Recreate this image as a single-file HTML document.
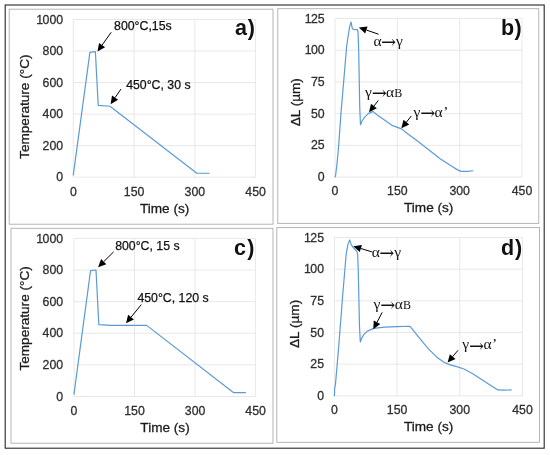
<!DOCTYPE html>
<html lang="en"><head><meta charset="utf-8"><title>Figure</title>
<style>
html,body{margin:0;padding:0;background:#fff}
body{width:550px;height:455px;overflow:hidden}
svg{display:block;font-family:"Liberation Sans",sans-serif}
.tk text{font-size:12.3px;fill:#2e2e2e;stroke:#2e2e2e;stroke-width:0.28px}
.ax{font-size:13.6px;fill:#1c1c1c;stroke:#1c1c1c;stroke-width:0.3px}
.an text{font-size:12.3px;fill:#111;stroke:#111;stroke-width:0.25px}

.lb text{font-size:21.5px;font-weight:bold;fill:#111}
.gr text{font-family:"Liberation Serif",serif;font-size:15.5px;fill:#111}
.gr .sm{font-size:12px}
.gr .ar{font-family:"DejaVu Serif","Liberation Serif",serif;font-size:18px}
</style></head><body>
<svg width="550" height="455" viewBox="0 0 550 455">
<rect width="550" height="455" fill="#fff"/>
<rect x="5.2" y="5.0" width="539.0" height="443.2" fill="#fff" stroke="#262626" stroke-width="1.1"/>
<rect x="9.2" y="9.2" width="263.8" height="215" fill="#fff" stroke="#adadad" stroke-width="0.9"/>
<path d="M73.3 19.5V177.2M134.07 19.5V177.2M194.83 19.5V177.2M255.6 19.5V177.2M73.3 177.2H255.6M73.3 145.66H255.6M73.3 114.12H255.6M73.3 82.58H255.6M73.3 51.04H255.6M73.3 19.5H255.6" fill="none" stroke="#e5e5e5" stroke-width="0.9"/>
<g class="tk">
<text x="73.3" y="195.5" text-anchor="middle">0</text>
<text x="134.07" y="195.5" text-anchor="middle">150</text>
<text x="194.83" y="195.5" text-anchor="middle">300</text>
<text x="255.6" y="195.5" text-anchor="middle">450</text>
<text x="63.1" y="181.3" text-anchor="end">0</text>
<text x="63.1" y="149.76" text-anchor="end">200</text>
<text x="63.1" y="118.22" text-anchor="end">400</text>
<text x="63.1" y="86.68" text-anchor="end">600</text>
<text x="63.1" y="55.14" text-anchor="end">800</text>
<text x="63.1" y="23.6" text-anchor="end">1<tspan dx="-0.6">000</tspan></text>
</g>
<text class="ax" x="164.65" y="212.5" text-anchor="middle">Time (s)</text>
<text class="ax" transform="translate(29.3 106.7) rotate(-90)" text-anchor="middle">Temperature (°C)</text>
<polyline points="73.3,174.83 89.91,52.3 95.38,51.67 98.21,105.45 109.96,106.23 196.86,173.26 209.01,173.26" fill="none" stroke="#5b9bd5" stroke-width="1.2" stroke-linejoin="round" stroke-linecap="round"/>
<rect x="277.8" y="8.7" width="261" height="214.7" fill="#fff" stroke="#adadad" stroke-width="0.9"/>
<path d="M335 18.5V177.1M397.33 18.5V177.1M459.67 18.5V177.1M522 18.5V177.1M335 177.1H522M335 145.38H522M335 113.66H522M335 81.94H522M335 50.22H522M335 18.5H522" fill="none" stroke="#e5e5e5" stroke-width="0.9"/>
<g class="tk">
<text x="335" y="195.4" text-anchor="middle">0</text>
<text x="397.33" y="195.4" text-anchor="middle">150</text>
<text x="459.67" y="195.4" text-anchor="middle">300</text>
<text x="522" y="195.4" text-anchor="middle">450</text>
<text x="324.7" y="181.2" text-anchor="end">0</text>
<text x="324.7" y="149.48" text-anchor="end">25</text>
<text x="324.7" y="117.76" text-anchor="end">50</text>
<text x="324.7" y="86.04" text-anchor="end">75</text>
<text x="324.7" y="54.32" text-anchor="end">1<tspan dx="-0.6">00</tspan></text>
<text x="324.7" y="22.6" text-anchor="end">1<tspan dx="-0.6">25</tspan></text>
</g>
<text class="ax" x="428.7" y="212.4" text-anchor="middle">Time (s)</text>
<text class="ax" transform="translate(299.6 102.2) rotate(-90)" text-anchor="middle">ΔL (µm)</text>
<polyline points="335,177.1 335.62,175.2 337.08,163.14 338.78,144.11 340.94,113.66 343.31,85.75 346.64,46.41 348.3,34.99 349.75,26.11 351.08,22.05 351.83,26.11 352.45,28.78 353.7,29.41 357.44,29.67 358.06,32.46 358.69,50.22 359.73,107.32 360.47,124.7 362.43,120.26 364.92,116.83 368.24,113.66 373.02,111.38 376.56,114.55 391.93,125.33 401.49,128.89 407.31,133.45 418.11,141.57 440.14,158.7 451.36,165.93 458,170.12 461.33,171.39 467.98,171.39 472.96,170.76" fill="none" stroke="#5b9bd5" stroke-width="1.2" stroke-linejoin="round" stroke-linecap="round"/>
<rect x="11" y="228.3" width="262" height="214.9" fill="#fff" stroke="#adadad" stroke-width="0.9"/>
<path d="M74 238.4V396.5M134.53 238.4V396.5M195.07 238.4V396.5M255.6 238.4V396.5M74 396.5H255.6M74 364.88H255.6M74 333.26H255.6M74 301.64H255.6M74 270.02H255.6M74 238.4H255.6" fill="none" stroke="#e5e5e5" stroke-width="0.9"/>
<g class="tk">
<text x="74" y="414.8" text-anchor="middle">0</text>
<text x="134.53" y="414.8" text-anchor="middle">150</text>
<text x="195.07" y="414.8" text-anchor="middle">300</text>
<text x="255.6" y="414.8" text-anchor="middle">450</text>
<text x="63.1" y="400.6" text-anchor="end">0</text>
<text x="63.1" y="368.98" text-anchor="end">200</text>
<text x="63.1" y="337.36" text-anchor="end">400</text>
<text x="63.1" y="305.74" text-anchor="end">600</text>
<text x="63.1" y="274.12" text-anchor="end">800</text>
<text x="63.1" y="242.5" text-anchor="end">1<tspan dx="-0.6">000</tspan></text>
</g>
<text class="ax" x="165" y="431.8" text-anchor="middle">Time (s)</text>
<text class="ax" transform="translate(29.3 318.4) rotate(-90)" text-anchor="middle">Temperature (°C)</text>
<polyline points="74,394.13 90.55,270.65 95.99,270.02 98.82,324.56 110.32,325.36 146.64,325.36 233.4,392.55 245.51,392.55" fill="none" stroke="#5b9bd5" stroke-width="1.2" stroke-linejoin="round" stroke-linecap="round"/>
<rect x="276.8" y="227.6" width="262.7" height="214.7" fill="#fff" stroke="#adadad" stroke-width="0.9"/>
<path d="M334.4 237.5V395.8M397.1 237.5V395.8M459.8 237.5V395.8M522.5 237.5V395.8M334.4 395.8H522.5M334.4 364.14H522.5M334.4 332.48H522.5M334.4 300.82H522.5M334.4 269.16H522.5M334.4 237.5H522.5" fill="none" stroke="#e5e5e5" stroke-width="0.9"/>
<g class="tk">
<text x="334.4" y="414.1" text-anchor="middle">0</text>
<text x="397.1" y="414.1" text-anchor="middle">150</text>
<text x="459.8" y="414.1" text-anchor="middle">300</text>
<text x="522.5" y="414.1" text-anchor="middle">450</text>
<text x="324" y="399.9" text-anchor="end">0</text>
<text x="324" y="368.24" text-anchor="end">25</text>
<text x="324" y="336.58" text-anchor="end">50</text>
<text x="324" y="304.92" text-anchor="end">75</text>
<text x="324" y="273.26" text-anchor="end">1<tspan dx="-0.6">00</tspan></text>
<text x="324" y="241.6" text-anchor="end">1<tspan dx="-0.6">25</tspan></text>
</g>
<text class="ax" x="428.65" y="431.1" text-anchor="middle">Time (s)</text>
<text class="ax" transform="translate(298.6 323.9) rotate(-90)" text-anchor="middle">ΔL (µm)</text>
<polyline points="334.4,395.8 334.73,388.2 335.44,384.4 338.41,350.21 342.76,294.49 346.19,253.96 347.82,244.85 349.62,240.03 351.37,244.85 352.79,247 356.8,251.43 357.64,253.96 358.23,269.16 359.48,326.15 360.32,341.98 361.99,337.55 364.5,333.75 367.84,330.83 373.69,328.43 384.56,327.16 397.1,326.65 410.06,326.27 420.09,338.81 428.45,348.94 436.81,357.17 443.92,362.24 449.35,364.65 457.71,366.93 463.98,368.95 472.34,373.51 482.79,380.22 491.15,385.67 497.84,389.97 503.69,390.1 511.21,389.97" fill="none" stroke="#5b9bd5" stroke-width="1.2" stroke-linejoin="round" stroke-linecap="round"/>
<g class="an">
<text x="114.1" y="30.2">800°C,15s</text>
<text x="126.2" y="89.2">450°C, 30 s</text>
<text x="115.2" y="250.4">800°C, 15 s</text>
<text x="137.4" y="302.4">450°C, 120 s</text>
</g>
<g class="lb">
<text x="235.1" y="34.8">a</text><text x="247.7" y="34.8">)</text>
<text x="500.9" y="34.5">b</text><text x="514.6" y="34.5">)</text>
<text x="234" y="254.8">c</text><text x="247.3" y="254.8">)</text>
<text x="501.05" y="254.5">d</text><text x="515" y="254.5">)</text>
</g>
<g class="gr">
<text x="373.45" y="45.6">α</text>
<text class="ar" x="380.95" y="47.9">→</text>
<text x="396" y="45.6">γ</text>
<text x="365" y="97">γ</text>
<text class="ar" x="371.7" y="99.3">→</text>
<text x="386.1" y="97">α</text>
<text class="sm" x="394.3" y="97">B</text>
<text x="413.45" y="117">γ</text>
<text class="ar" x="420.15" y="119.3">→</text>
<text x="434.55" y="117">α</text>
<text x="443.15" y="117">’</text>
<text x="371.8" y="257">α</text>
<text class="ar" x="379.3" y="259.3">→</text>
<text x="394.35" y="257">γ</text>
<text x="373.6" y="309">γ</text>
<text class="ar" x="380.3" y="311.3">→</text>
<text x="394.7" y="309">α</text>
<text class="sm" x="402.9" y="309">B</text>
<text x="462.3" y="349.4">γ</text>
<text class="ar" x="469" y="351.7">→</text>
<text x="483.4" y="349.4">α</text>
<text x="492" y="349.4">’</text>
</g>
<path d="M111.2 32.3L102.09 45.07" stroke="#000" stroke-width="1.0" fill="none"/>
<path d="M97.5 51.5L99.08 42.92L105.1 47.22Z" fill="#000"/>
<path d="M121 89L115.06 97.68" stroke="#000" stroke-width="1.0" fill="none"/>
<path d="M110.6 104.2L112.01 95.59L118.11 99.77Z" fill="#000"/>
<path d="M378.5 34.2L366.38 30.06" stroke="#000" stroke-width="1.0" fill="none"/>
<path d="M358.9 27.5L367.57 26.55L365.18 33.56Z" fill="#000"/>
<path d="M378.3 100.5L373.92 106.02" stroke="#000" stroke-width="1.0" fill="none"/>
<path d="M369 112.2L371.02 103.71L376.81 108.32Z" fill="#000"/>
<path d="M411.3 116L406.35 122.15" stroke="#000" stroke-width="1.0" fill="none"/>
<path d="M401.4 128.3L403.47 119.83L409.24 124.47Z" fill="#000"/>
<path d="M113.6 251.9L103.72 261.65" stroke="#000" stroke-width="1.0" fill="none"/>
<path d="M98.1 267.2L101.12 259.02L106.32 264.28Z" fill="#000"/>
<path d="M141.3 304.6L131 317.19" stroke="#000" stroke-width="1.0" fill="none"/>
<path d="M126 323.3L128.14 314.84L133.87 319.53Z" fill="#000"/>
<path d="M372.3 252L360.86 248.51" stroke="#000" stroke-width="1.0" fill="none"/>
<path d="M353.3 246.2L361.94 244.97L359.78 252.05Z" fill="#000"/>
<path d="M382.2 312.4L377 322.22" stroke="#000" stroke-width="1.0" fill="none"/>
<path d="M373.3 329.2L373.73 320.49L380.27 323.95Z" fill="#000"/>
<path d="M458 350.3L452.7 356.57" stroke="#000" stroke-width="1.0" fill="none"/>
<path d="M447.6 362.6L449.88 354.18L455.53 358.96Z" fill="#000"/>
</svg>
</body></html>
